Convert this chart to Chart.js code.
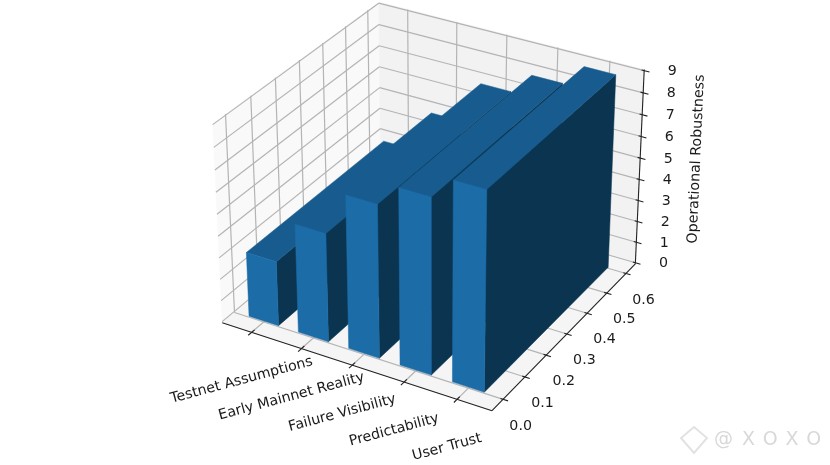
<!DOCTYPE html>
<html>
<head>
<meta charset="utf-8">
<style>
html, body { margin: 0; padding: 0; background: #fff; }
canvas { display: block; }
</style>
<script src="https://cdn.jsdelivr.net/npm/chart.js@4/dist/chart.umd.min.js"></script>
</head>
<body>
<canvas id="chart" width="830" height="465"></canvas>
<script>
var categories = ["Testnet Assumptions", "Early Mainnet Reality", "Failure Visibility", "Predictability", "User Trust"];
var robustness = [3, 5, 7, 8, 9];
var depthTicks = [0.0, 0.1, 0.2, 0.3, 0.4, 0.5, 0.6];
var robustnessTicks = [0, 1, 2, 3, 4, 5, 6, 7, 8, 9];
var zTitle = "Operational Robustness";
var watermark = "@XOXO";

// axis limits of the 3d box
var xLim = [-0.6, 4.65];
var yLim = [-0.05, 0.65];
var zLim = [-0.05, 9.05];
var barWidth = 0.6;
var barDepth = 0.6;

// camera: elev 30, azim -60, distance 10
var boxX = 1.1905, boxY = 1.1905, boxZ = 0.875, dist = 10;
var elev = 30 * Math.PI / 180, azim = -60 * Math.PI / 180;
var w = [Math.cos(elev) * Math.cos(azim), Math.cos(elev) * Math.sin(azim), Math.sin(elev)];
var u = [-Math.sin(azim), Math.cos(azim), 0];
var v = [w[1] * u[2] - w[2] * u[1], w[2] * u[0] - w[0] * u[2], w[0] * u[1] - w[1] * u[0]];

function project(x, y, z) {
    var p = [
        ((x - xLim[0]) / (xLim[1] - xLim[0]) - 0.5) * boxX,
        ((y - yLim[0]) / (yLim[1] - yLim[0]) - 0.5) * boxY,
        ((z - zLim[0]) / (zLim[1] - zLim[0]) - 0.5) * boxZ
    ];
    var d = dist - (p[0] * w[0] + p[1] * w[1] + p[2] * w[2]);
    return {
        x: (p[0] * u[0] + p[1] * u[1] + p[2] * u[2]) / d,
        y: (p[0] * v[0] + p[1] * v[1] + p[2] * v[2]) / d
    };
}

// the plane scales: projected units to canvas pixels
var pxPerUnit = 2595, originX = 432.6, originY = 196.5;

var paneLeft = "#f9f9f9", paneBack = "#f2f2f2", paneFloor = "#f5f5f5";
var gridColor = "#b4b4b4";
var axisColor = "#222222";
var frontColor = "#1c6ca8", topColor = "#185c8f", sideColor = "#0b3450";

var datasets = [];

function face(points, color) {
    var data = points.map(function (p) { return project(p[0], p[1], p[2]); });
    data.push(data[0]);
    datasets.push({ data: data, faceColor: color, borderColor: color, borderWidth: 0.5, showLine: true, pointRadius: 0, clip: false });
}
function line(a, b, color, width) {
    datasets.push({
        data: [project(a[0], a[1], a[2]), project(b[0], b[1], b[2])],
        borderColor: color, borderWidth: width, showLine: true, pointRadius: 0, clip: false
    });
}

var x0 = xLim[0], x1 = xLim[1], y0 = yLim[0], y1 = yLim[1], z0 = zLim[0], z1 = zLim[1];

// panes
face([[x0, y0, z0], [x0, y1, z0], [x0, y1, z1], [x0, y0, z1]], paneLeft);
face([[x0, y1, z0], [x1, y1, z0], [x1, y1, z1], [x0, y1, z1]], paneBack);
face([[x0, y0, z0], [x1, y0, z0], [x1, y1, z0], [x0, y1, z0]], paneFloor);

// grid
categories.forEach(function (c, i) {
    line([i, y0, z0], [i, y1, z0], gridColor, 1.2);
    line([i, y1, z0], [i, y1, z1], gridColor, 1.2);
});
depthTicks.forEach(function (t) {
    line([x0, t, z0], [x1, t, z0], gridColor, 1.2);
    line([x0, t, z0], [x0, t, z1], gridColor, 1.2);
});
robustnessTicks.forEach(function (t) {
    line([x0, y0, t], [x0, y1, t], gridColor, 1.2);
    line([x0, y1, t], [x1, y1, t], gridColor, 1.2);
});

// axes and tick marks
line([x0, y0, z0], [x1, y0, z0], axisColor, 1.1);
line([x1, y0, z0], [x1, y1, z0], axisColor, 1.1);
line([x1, y1, z0], [x1, y1, z1], axisColor, 1.1);
categories.forEach(function (c, i) {
    line([i, y0 + 0.012, z0], [i, y0 - 0.014, z0], axisColor, 1.1);
});
depthTicks.forEach(function (t) {
    line([x1 - 0.05, t, z0], [x1 + 0.09, t, z0], axisColor, 1.1);
});
robustnessTicks.forEach(function (t) {
    line([x1 - 0.05, y1, t], [x1 + 0.1, y1, t], axisColor, 1.1);
});

// bars, far to near
robustness.forEach(function (h, i) {
    var a = i - barWidth / 2, b = i + barWidth / 2;
    face([[b, 0, 0], [b, barDepth, 0], [b, barDepth, h], [b, 0, h]], sideColor);
    face([[a, 0, h], [b, 0, h], [b, barDepth, h], [a, barDepth, h]], topColor);
    face([[a, 0, 0], [b, 0, 0], [b, 0, h], [a, 0, h]], frontColor);
});

// chart.js paints the first dataset last
datasets.reverse();

function drawText(ctx, text, x, y, angle, font, color) {
    ctx.save();
    ctx.translate(x, y);
    ctx.rotate(angle);
    ctx.font = font;
    ctx.fillStyle = color;
    ctx.textAlign = "center";
    ctx.textBaseline = "middle";
    ctx.fillText(text, 0, 0);
    ctx.restore();
}

var facePlugin = {
    id: "faces",
    beforeDatasetDraw: function (chart, args) {
        var color = chart.data.datasets[args.index].faceColor;
        if (!color) return;
        var ctx = chart.ctx, pts = args.meta.data;
        ctx.save();
        ctx.beginPath();
        pts.forEach(function (p, i) {
            if (i === 0) ctx.moveTo(p.x, p.y); else ctx.lineTo(p.x, p.y);
        });
        ctx.closePath();
        ctx.fillStyle = color;
        ctx.fill();
        ctx.restore();
    }
};

var labelPlugin = {
    id: "labels3d",
    afterDraw: function (chart) {
        var ctx = chart.ctx, sx = chart.scales.x, sy = chart.scales.y;
        var font = "14.2px 'DejaVu Sans'", ink = "#1a1a1a";
        function at(x, y, z) {
            var p = project(x, y, z);
            return { x: sx.getPixelForValue(p.x), y: sy.getPixelForValue(p.y) };
        }
        categories.forEach(function (c, i) {
            var p = at(i, y0, z0);
            drawText(ctx, c, p.x - 10, p.y + 48, -15 * Math.PI / 180, font, ink);
        });
        depthTicks.forEach(function (t) {
            var p = at(x1, t, z0);
            drawText(ctx, t.toFixed(1), p.x + 17.5, p.y + 26.5, 0, font, ink);
        });
        robustnessTicks.forEach(function (t) {
            var p = at(x1, y1, t);
            drawText(ctx, String(t), p.x + 28, p.y + 1, 0, font, ink);
        });
        drawText(ctx, zTitle, 696.5, 159, -87.5 * Math.PI / 180, font, ink);

        // watermark
        ctx.save();
        ctx.font = "19px 'DejaVu Sans'";
        ctx.letterSpacing = "9px";
        ctx.fillStyle = "#d8d8d8";
        ctx.textAlign = "left";
        ctx.textBaseline = "middle";
        ctx.fillText(watermark, 714, 440);
        ctx.restore();
        ctx.save();
        ctx.strokeStyle = "#e2e2e2";
        ctx.lineWidth = 2;
        ctx.beginPath();
        ctx.moveTo(694, 427); ctx.lineTo(707, 438); ctx.lineTo(694, 453); ctx.lineTo(681, 438);
        ctx.closePath();
        ctx.stroke();
        ctx.restore();
    }
};

new Chart("chart", {
    type: "scatter",
    data: { datasets: datasets },
    plugins: [facePlugin, labelPlugin],
    options: {
        responsive: false,
        animation: false,
        layout: { padding: 0 },
        plugins: { legend: { display: false }, tooltip: { enabled: false } },
        scales: {
            x: { display: false, min: -originX / pxPerUnit, max: (830 - originX) / pxPerUnit },
            y: { display: false, min: (originY - 465) / pxPerUnit, max: originY / pxPerUnit }
        }
    }
});
</script>
</body>
</html>
